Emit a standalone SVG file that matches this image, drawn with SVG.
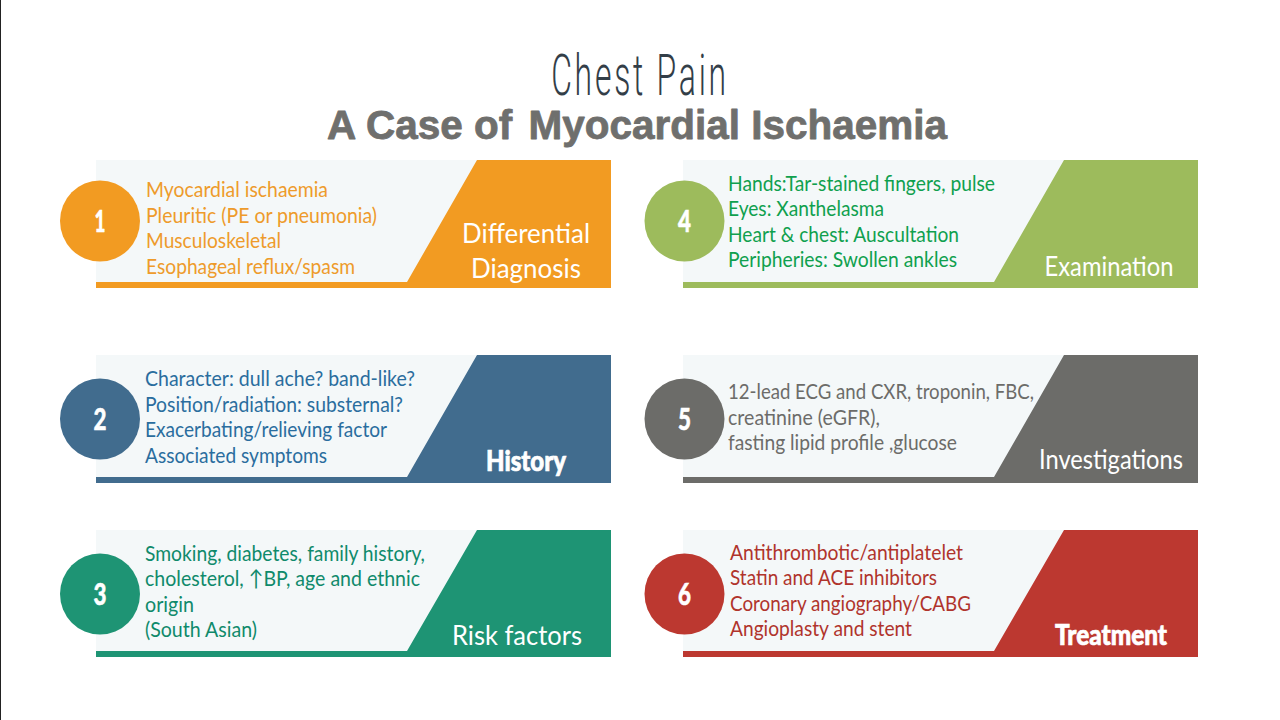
<svg xmlns="http://www.w3.org/2000/svg" width="1280" height="720" viewBox="0 0 1280 720">
<style>
text{font-family:Lato,"Liberation Sans",sans-serif}
.b{fill:#f4f8f9}
.l{font-size:22px;transform:translateY(.7px)}
.t{font-size:27px;fill:#fff;text-anchor:middle;transform:translateY(.7px)}
.h{font-size:28px;fill:#fff;font-weight:900;text-anchor:middle;stroke:#fff;stroke-width:.7;transform:translateY(.7px)}
.n{font-size:30px;fill:#fff;font-weight:900;text-anchor:middle;stroke:#fff;stroke-width:.5}
.o{fill:#f29b22}.bl{fill:#416c8e}.g{fill:#1e9474}.gn{fill:#9dbb5c}.gy{fill:#6c6c69}.r{fill:#bc3830}
</style>
<rect width="1280" height="720" fill="#fff"/>
<rect x="0" y="0" width="1" height="720" fill="#222"/>
<g id="title">
<text transform="translate(640 95) scale(.55 1)" text-anchor="middle" font-size="58" font-weight="300" letter-spacing="5" fill="#333e48" style="font-family:Roboto,'Liberation Sans',sans-serif">Chest Pain</text>
<text x="637" y="139" text-anchor="middle" font-size="40" font-weight="700" fill="#6f6f6d" stroke="#6f6f6d" stroke-width=".8" stroke-linejoin="round" textLength="620" lengthAdjust="spacingAndGlyphs" style="font-family:'Liberation Sans',sans-serif">A Case of <tspan dx="5">Myocardial Ischaemia</tspan></text>
</g>
<g id="node1">
<rect class="b" x="96" y="160" width="515" height="128"/><path class="o" d="M477 160H611V288H96V282H407Z"/><ellipse class="o" cx="100" cy="221" rx="40" ry="40.5"/>
<text class="n" x="100" y="232" textLength="11" lengthAdjust="spacingAndGlyphs">1</text>
<g class="l" fill="#ee9b2b"><text x="146" y="196" textLength="182" lengthAdjust="spacingAndGlyphs">Myocardial ischaemia</text><text x="146" y="222" textLength="231" lengthAdjust="spacingAndGlyphs">Pleuritic (PE or pneumonia)</text><text x="146" y="247" textLength="135" lengthAdjust="spacingAndGlyphs">Musculoskeletal</text><text x="146" y="273" textLength="209" lengthAdjust="spacingAndGlyphs">Esophageal reflux/spasm</text></g>
<text class="t" x="526" y="242" textLength="128" lengthAdjust="spacingAndGlyphs">Differential</text><text class="t" x="526" y="277" textLength="110" lengthAdjust="spacingAndGlyphs">Diagnosis</text>
</g>
<g id="node2">
<rect class="b" x="96" y="355" width="515" height="128"/><path class="bl" d="M477 355H611V483H96V477H407Z"/><ellipse class="bl" cx="100" cy="419" rx="40" ry="40.5"/>
<text class="n" x="100" y="430" textLength="13" lengthAdjust="spacingAndGlyphs">2</text>
<g class="l" fill="#2a6d9e"><text x="145" y="385" textLength="270" lengthAdjust="spacingAndGlyphs">Character: dull ache? band-like?</text><text x="145" y="411" textLength="258" lengthAdjust="spacingAndGlyphs">Position/radiation: substernal?</text><text x="145" y="436" textLength="242" lengthAdjust="spacingAndGlyphs">Exacerbating/relieving factor</text><text x="145" y="462" textLength="182" lengthAdjust="spacingAndGlyphs">Associated symptoms</text></g>
<text class="h" x="526" y="470" textLength="80" lengthAdjust="spacingAndGlyphs">History</text>
</g>
<g id="node3">
<rect class="b" x="96" y="530" width="515" height="127"/><path class="g" d="M477 530H611V657H96V651H407Z"/><ellipse class="g" cx="100" cy="594" rx="40" ry="40.5"/>
<text class="n" x="100" y="605" textLength="13" lengthAdjust="spacingAndGlyphs">3</text>
<g class="l" fill="#0f8a6b"><text x="145" y="560" textLength="280" lengthAdjust="spacingAndGlyphs">Smoking, diabetes, family history,</text><text x="145" y="585" textLength="275" lengthAdjust="spacingAndGlyphs">cholesterol, ↑BP, age and ethnic</text><text x="145" y="611" textLength="49" lengthAdjust="spacingAndGlyphs">origin</text><text x="145" y="636" textLength="112" lengthAdjust="spacingAndGlyphs">(South Asian)</text></g>
<text class="t" x="517" y="644" textLength="130" lengthAdjust="spacingAndGlyphs">Risk factors</text>
</g>
<g id="node4">
<rect class="b" x="683" y="160" width="515" height="128"/><path class="gn" d="M1064 160H1198V288H683V282H994Z"/><ellipse class="gn" cx="684.5" cy="221" rx="40" ry="40.5"/>
<text class="n" x="684.5" y="232" textLength="13" lengthAdjust="spacingAndGlyphs">4</text>
<g class="l" fill="#0fa04e"><text x="728" y="190" textLength="267" lengthAdjust="spacingAndGlyphs">Hands:Tar-stained fingers, pulse</text><text x="728" y="215" textLength="156" lengthAdjust="spacingAndGlyphs">Eyes: Xanthelasma</text><text x="728" y="241" textLength="231" lengthAdjust="spacingAndGlyphs">Heart &amp; chest: Auscultation</text><text x="728" y="266" textLength="229" lengthAdjust="spacingAndGlyphs">Peripheries: Swollen ankles</text></g>
<text class="t" x="1109" y="275" textLength="129" lengthAdjust="spacingAndGlyphs">Examination</text>
</g>
<g id="node5">
<rect class="b" x="683" y="355" width="515" height="128"/><path class="gy" d="M1064 355H1198V483H683V477H994Z"/><ellipse class="gy" cx="684.5" cy="419" rx="40" ry="40.5"/>
<text class="n" x="684.5" y="430" textLength="13" lengthAdjust="spacingAndGlyphs">5</text>
<g class="l" fill="#6c6c69"><text x="728" y="398" textLength="306" lengthAdjust="spacingAndGlyphs">12-lead ECG and CXR, troponin, FBC,</text><text x="728" y="424" textLength="152" lengthAdjust="spacingAndGlyphs">creatinine (eGFR),</text><text x="728" y="449" textLength="229" lengthAdjust="spacingAndGlyphs">fasting lipid profile ,glucose</text></g>
<text class="t" x="1111" y="468" textLength="144" lengthAdjust="spacingAndGlyphs">Investigations</text>
</g>
<g id="node6">
<rect class="b" x="683" y="530" width="515" height="127"/><path class="r" d="M1064 530H1198V657H683V651H994Z"/><ellipse class="r" cx="684.5" cy="594" rx="40" ry="40.5"/>
<text class="n" x="684.5" y="605" textLength="13" lengthAdjust="spacingAndGlyphs">6</text>
<g class="l" fill="#b0342c"><text x="730" y="559" textLength="233" lengthAdjust="spacingAndGlyphs">Antithrombotic/antiplatelet</text><text x="730" y="584" textLength="207" lengthAdjust="spacingAndGlyphs">Statin and ACE inhibitors</text><text x="730" y="610" textLength="241" lengthAdjust="spacingAndGlyphs">Coronary angiography/CABG</text><text x="730" y="635" textLength="182" lengthAdjust="spacingAndGlyphs">Angioplasty and stent</text></g>
<text class="h" x="1111" y="644" textLength="112" lengthAdjust="spacingAndGlyphs">Treatment</text>
</g>
<g id="connectors"/>
</svg>
